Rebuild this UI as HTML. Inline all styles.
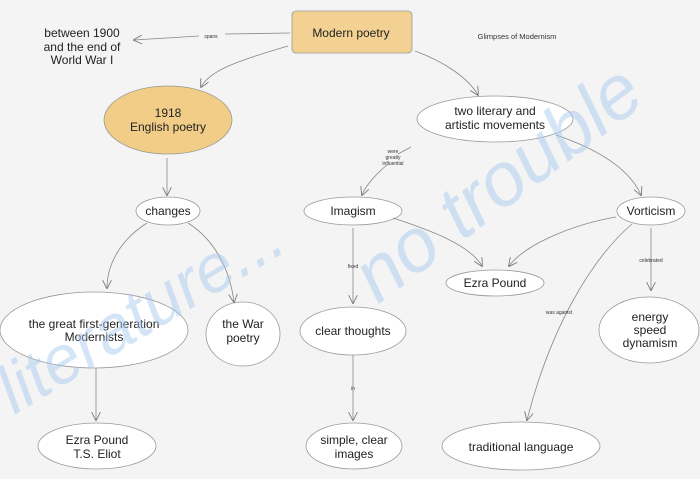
<!DOCTYPE html>
<html><head><meta charset="utf-8"><style>
html,body{margin:0;padding:0;background:#f4f4f4;}
svg{display:block;font-family:"Liberation Sans",Arial,sans-serif;}
</style></head><body>
<svg width="700" height="479" viewBox="0 0 700 479" xmlns="http://www.w3.org/2000/svg">
<defs>
<marker id="a" viewBox="0 0 10 10" refX="9" refY="5" markerWidth="9" markerHeight="9" orient="auto" markerUnits="userSpaceOnUse">
<path d="M0,0 L10,5 L0,10" fill="none" stroke="#777" stroke-width="1"/></marker>
</defs>
<rect width="700" height="479" fill="#f4f4f4"/>
<g stroke="#999" stroke-width="0.8">
<rect x="292" y="11" width="120" height="42" rx="4" fill="#f3d192"/>
<ellipse cx="168" cy="120" rx="64" ry="34" fill="#f1cd88"/>
<ellipse cx="495" cy="119" rx="78" ry="23" fill="#fff"/>
<ellipse cx="168" cy="211" rx="32" ry="14" fill="#fff"/>
<ellipse cx="353" cy="211" rx="49" ry="14" fill="#fff"/>
<ellipse cx="651" cy="211" rx="34" ry="14" fill="#fff"/>
<ellipse cx="495" cy="283" rx="49" ry="13" fill="#fff"/>
<ellipse cx="94" cy="330" rx="94" ry="38" fill="#fff"/>
<ellipse cx="243" cy="334" rx="37" ry="32" fill="#fff"/>
<ellipse cx="353" cy="331" rx="53" ry="24" fill="#fff"/>
<ellipse cx="649" cy="330" rx="50" ry="33" fill="#fff"/>
<ellipse cx="97" cy="446" rx="59" ry="23" fill="#fff"/>
<ellipse cx="354" cy="446" rx="48" ry="23" fill="#fff"/>
<ellipse cx="521" cy="446" rx="79" ry="24" fill="#fff"/>
</g>
<g fill="none" stroke="#888" stroke-width="0.8" marker-end="url(#a)">
<path d="M290,33 L225,34" marker-end="none"/>
<path d="M199,36 L134,40"/>
<path d="M288,46 C240,60 210,70 201,87"/>
<path d="M415,51 C445,62 468,78 478,95"/>
<path d="M167,158 L167,195"/>
<path d="M411,147 L398,154" marker-end="none"/>
<path d="M388,164 C375,175 366,185 362,195"/>
<path d="M556,135 C600,150 630,170 641,195"/>
<path d="M147,223 C120,240 107,265 107,288"/>
<path d="M188,223 C215,240 230,270 234,302"/>
<path d="M353,228 L353,303"/>
<path d="M393,218 C430,230 470,245 482,266"/>
<path d="M616,217 C570,225 525,245 509,266"/>
<path d="M632,224 C590,260 550,330 527,420"/>
<path d="M651,228 L651,290"/>
<path d="M96,368 L96,420"/>
<path d="M353,355 L353,420"/>
</g>
<g fill="#222" font-size="12" text-anchor="middle">
<text x="351" y="37">Modern poetry</text>
<text x="82" y="37">between 1900</text>
<text x="82" y="51">and the end of</text>
<text x="82" y="64">World War I</text>
<text x="168" y="117">1918</text>
<text x="168" y="131">English poetry</text>
<text x="495" y="115">two literary and</text>
<text x="495" y="129">artistic movements</text>
<text x="168" y="215">changes</text>
<text x="353" y="215">Imagism</text>
<text x="651" y="215">Vorticism</text>
<text x="495" y="287">Ezra Pound</text>
<text x="94" y="328">the great first-generation</text>
<text x="94" y="341">Modernists</text>
<text x="243" y="328">the War</text>
<text x="243" y="342">poetry</text>
<text x="353" y="335">clear thoughts</text>
<text x="650" y="321">energy</text>
<text x="650" y="334">speed</text>
<text x="650" y="347">dynamism</text>
<text x="97" y="444">Ezra Pound</text>
<text x="97" y="458">T.S. Eliot</text>
<text x="354" y="444">simple, clear</text>
<text x="354" y="458">images</text>
<text x="521" y="451">traditional language</text>
</g>
<g fill="#333" font-size="5" text-anchor="middle">
<text x="211" y="38">spans</text>
<text x="393" y="153">were</text>
<text x="393" y="159">greatly</text>
<text x="393" y="165">influential</text>
<text x="353" y="268">fixed</text>
<text x="353" y="390">in</text>
<text x="651" y="262">celebrated</text>
<text x="559" y="314">was against</text>
</g>
<text x="517" y="39" font-size="7.5" fill="#333" text-anchor="middle">Glimpses of Modernism</text>
<g fill="#a9cbee" opacity="0.5" font-size="68" font-style="italic">
<text x="14" y="415" transform="rotate(-31 14 415)">literature...</text>
<text x="378" y="305" transform="rotate(-37 378 305)" font-size="76">no trouble</text>
</g>
</svg>
</body></html>
